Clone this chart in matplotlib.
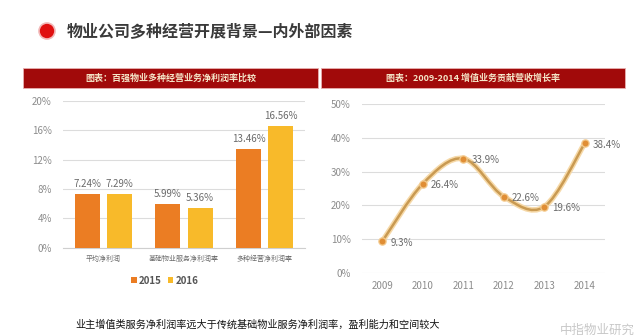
import matplotlib
matplotlib.use("Agg")
import matplotlib.pyplot as plt
import numpy as np
from matplotlib.patches import Rectangle, Circle, PathPatch
from matplotlib.path import Path

plt.rcParams['font.family'] = ['Noto Sans CJK SC', 'DejaVu Sans']

# --- data ---
title = "物业公司多种经营开展背景—内外部因素"
left_header = "图表：百强物业多种经营业务净利润率比较"
right_header = "图表：2009-2014 增值业务贡献营收增长率"
categories = ["平均净利润", "基础物业服务净利润率", "多种经营净利润率"]
margin_2015 = [7.24, 5.99, 13.46]
margin_2016 = [7.29, 5.36, 16.56]
years = ["2009", "2010", "2011", "2012", "2013", "2014"]
growth = [9.3, 26.4, 33.9, 22.6, 19.6, 38.4]
footnote = "业主增值类服务净利润率远大于传统基础物业服务净利润率，盈利能力和空间较大"

ORANGE = "#EB7D23"
YELLOW = "#F8BA2A"
RED = "#A10A0A"
GRID = "#DCDCDC"
TICK = "#8C8C8C"

W, H = 640, 335
fig = plt.figure(figsize=(6.4, 3.35), dpi=100)


def fx(px):
    return px / W


def fy(py):
    return 1 - py / H


# title with red dot (in inches so it stays round)
fig.patches.append(Circle((0.47, (H - 31) / 100), 0.08, transform=fig.dpi_scale_trans,
                          facecolor="#E01010", edgecolor="#F2B8B8", lw=1.2))
fig.text(fx(67), fy(31), title, fontsize=11.5, fontweight="bold", color="#3A3A3A",
         va="center", ha="left")

# red headers
for x0, x1, txt in [(23, 318, left_header), (321, 625, right_header)]:
    fig.patches.append(Rectangle((fx(x0), fy(88)), fx(x1 - x0), (88 - 68) / H,
                                 transform=fig.transFigure, facecolor=RED,
                                 edgecolor="#E8B0B0", lw=0.6))
    fig.text(fx((x0 + x1) / 2), fy(78), txt, fontsize=6.5, fontweight="bold",
             color="#F5E6C8", ha="center", va="center")

# --- left bar chart ---
ax1 = fig.add_axes([fx(63), fy(247.7), fx(305 - 63), (247.7 - 100.7) / H])
x = np.arange(len(categories))
bw = 0.31
b1 = ax1.bar(x - 0.2, margin_2015, bw, color=ORANGE, label="2015", zorder=3)
b2 = ax1.bar(x + 0.2, margin_2016, bw, color=YELLOW, label="2016", zorder=3)
for bars, vals in [(b1, margin_2015), (b2, margin_2016)]:
    for rect, v in zip(bars, vals):
        ax1.text(rect.get_x() + rect.get_width() / 2, v + 0.7, f"{v:.2f}%",
                 ha="center", va="bottom", fontsize=7, color="#6A6A6A")
ax1.set_xlim(-0.5, 2.5)
ax1.set_ylim(0, 20)
ax1.set_yticks([0, 4, 8, 12, 16, 20])
ax1.set_yticklabels([f"{t}%" for t in [0, 4, 8, 12, 16, 20]])
ax1.set_xticks(x)
ax1.set_xticklabels(categories, fontsize=5, color="#6A6A6A")
ax1.tick_params(axis="y", labelsize=7, colors=TICK, length=0, pad=8)
ax1.tick_params(axis="x", length=0, pad=5)
ax1.grid(axis="y", color=GRID, lw=0.8, zorder=0)
for s in ax1.spines.values():
    s.set_visible(False)
ax1.spines["bottom"].set_visible(True)
ax1.spines["bottom"].set_color("#CFCFCF")
leg = ax1.legend(loc="upper center", bbox_to_anchor=(0.42, -0.13), ncol=2,
                 frameon=False, fontsize=7, handlelength=0.6, handleheight=0.6,
                 handletextpad=0.2, columnspacing=0.6)
for t in leg.get_texts():
    t.set_color("#555555")
    t.set_fontweight("bold")

# --- right line chart ---
ax2 = fig.add_axes([fx(362), fy(272.7), fx(605 - 362), (272.7 - 104.3) / H])
xi = np.arange(len(years), dtype=float)
yi = np.array(growth, dtype=float)

# Excel-like smoothed line: cubic Bezier segments (Catmull-Rom control points)
verts = [(xi[0], yi[0])]
codes = [Path.MOVETO]
n = len(xi)
for i in range(n - 1):
    p0 = (xi[max(i - 1, 0)], yi[max(i - 1, 0)])
    p1 = (xi[i], yi[i])
    p2 = (xi[i + 1], yi[i + 1])
    p3 = (xi[min(i + 2, n - 1)], yi[min(i + 2, n - 1)])
    c1 = (p1[0] + (p2[0] - p0[0]) / 6, p1[1] + (p2[1] - p0[1]) / 6)
    c2 = (p2[0] - (p3[0] - p1[0]) / 6, p2[1] - (p3[1] - p1[1]) / 6)
    verts += [c1, c2, p2]
    codes += [Path.CURVE4] * 3
path = Path(verts, codes)
ax2.add_patch(PathPatch(path, facecolor="none", edgecolor="#F6D9A8", lw=4.0, zorder=3))
ax2.add_patch(PathPatch(path, facecolor="none", edgecolor="#C99A52", lw=1.8, zorder=4))
ax2.scatter(xi, yi, s=38, color="#F3C98C", zorder=5, lw=0)
ax2.scatter(xi, yi, s=18, color="#E08E35", zorder=6, lw=0)
for xv, yv in zip(xi, yi):
    ax2.annotate(f"{yv:.1f}%", (xv, yv), xytext=(6, -1), textcoords="offset points",
                 ha="left", va="center", fontsize=7, color="#6A6A6A")
ax2.set_xlim(-0.5, 5.5)
ax2.set_ylim(0, 50)
ax2.set_yticks([0, 10, 20, 30, 40, 50])
ax2.set_yticklabels([f"{t}%" for t in [0, 10, 20, 30, 40, 50]])
ax2.set_xticks(xi)
ax2.set_xticklabels(years)
ax2.tick_params(axis="y", labelsize=7, colors=TICK, length=0, pad=8)
ax2.tick_params(axis="x", labelsize=7, colors=TICK, length=0, pad=6)
ax2.grid(axis="y", color=GRID, lw=0.8, zorder=0)
for s in ax2.spines.values():
    s.set_visible(False)

# footnote and watermark
fig.text(fx(75), fy(325), footnote, fontsize=7.3, color="#111111", ha="left", va="center")
fig.text(fx(560), fy(330), "中指物业研究", fontsize=9, color="#C8C8C8", ha="left",
         va="center")

fig.savefig("out.png", dpi=100)
